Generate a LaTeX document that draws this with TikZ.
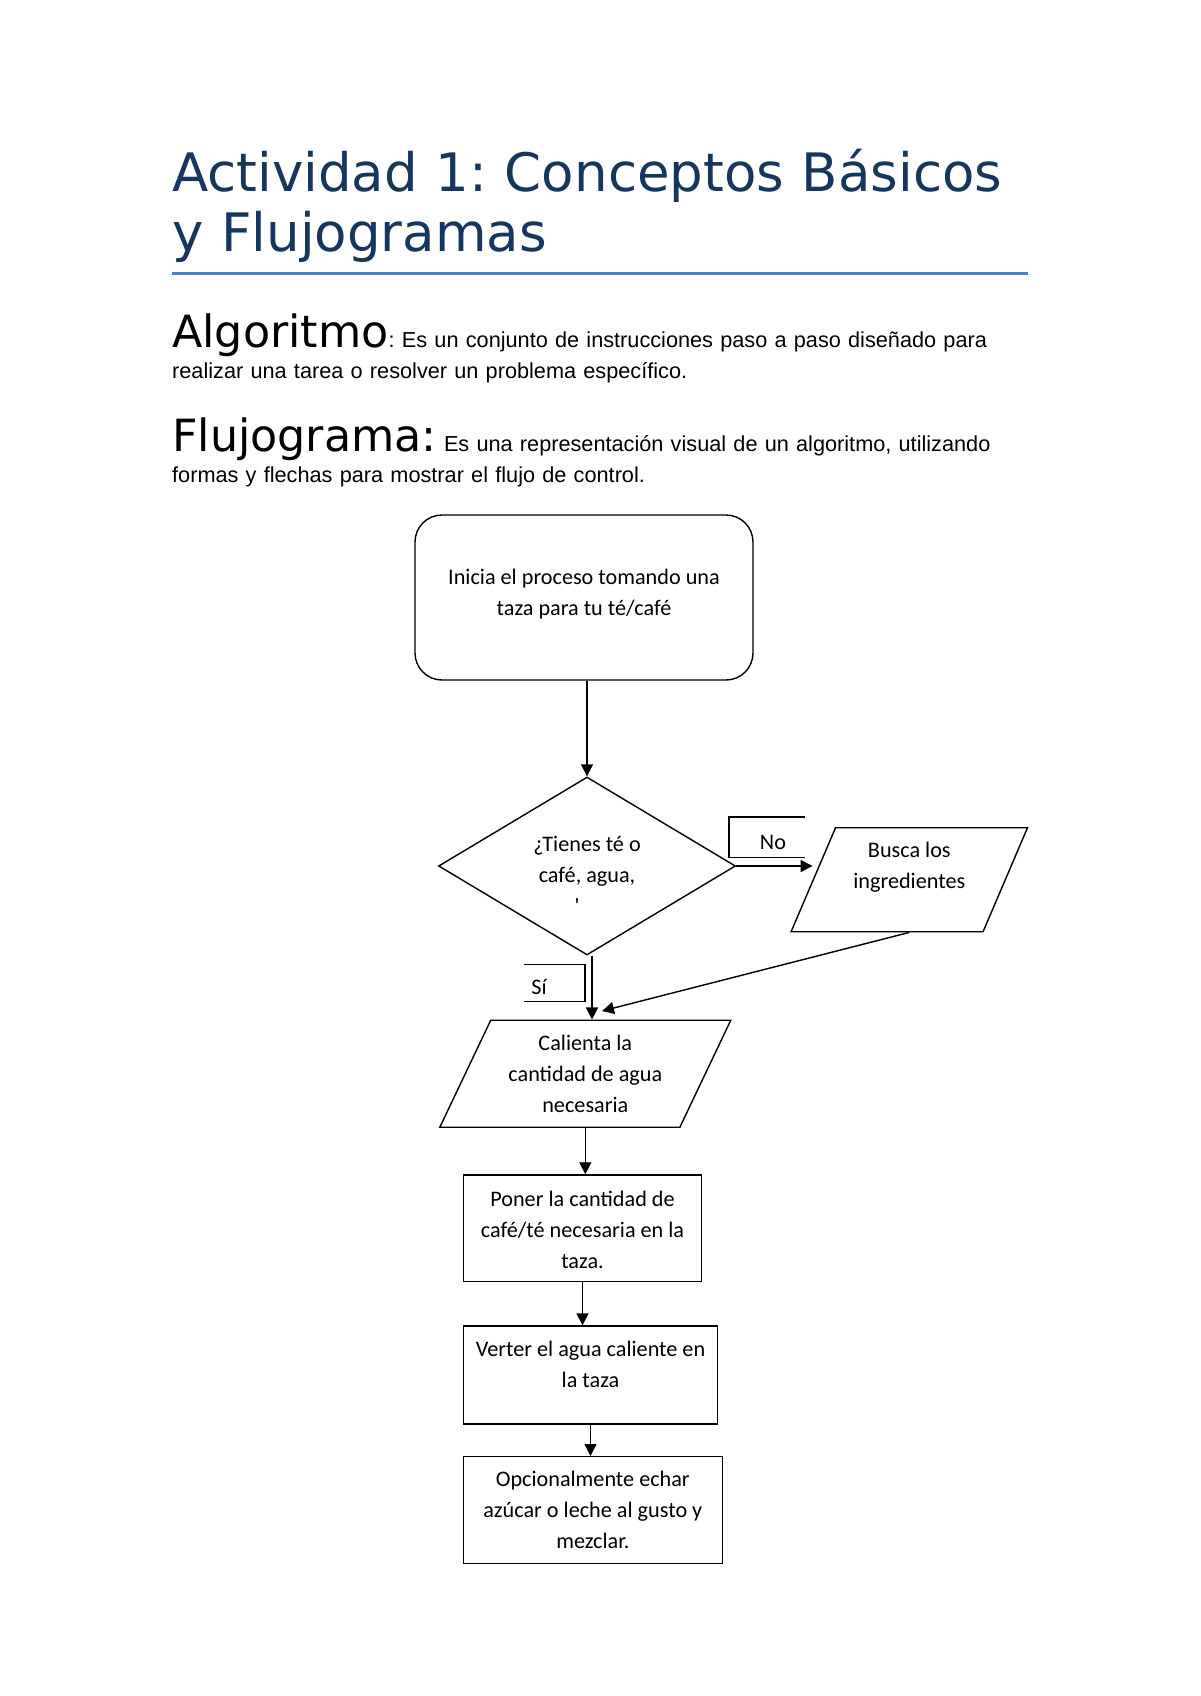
\documentclass[tikz,border=0pt]{standalone}
\usepackage{fontspec}
\setmainfont{Liberation Sans}
\newfontfamily\dejavu{DejaVu Sans}
\newfontfamily\carlito{Carlito}
\usetikzlibrary{shapes.geometric,arrows.meta}
\definecolor{titulo}{HTML}{17365D}
\definecolor{raya}{HTML}{4F81BD}
\frenchspacing
\begin{document}
\begin{tikzpicture}[x=1pt,y=-1pt,
	caja/.style={draw,line width=1.4pt,align=center,inner sep=2pt,font=\carlito\fontsize{22.2}{31}\selectfont},
	paralelo/.style={caja,trapezium,trapezium stretches=true},
	flecha/.style={line width=1.4pt,-{Triangle[length=12pt,width=12pt]}},
	etiqueta/.style={inner sep=0pt,font=\carlito\fontsize{22.2}{31}\selectfont},
	parrafo/.style={anchor=base west,text width=880pt,align=left,inner sep=0pt,font=\fontsize{21.7}{31.5}\selectfont}]
	\useasboundingbox (0,0) rectangle (1200,1696);
	\fill[white] (0,0) rectangle (1200,1696);
	% encabezado
	\node[anchor=base west,text width=900pt,align=left,inner sep=0pt,text=titulo,font=\dejavu\fontsize{53}{60}\selectfont] (titulo) at (172,192) {Actividad 1: Conceptos Básicos\\y Flujogramas};
	\draw[raya,line width=3pt] (172,273) -- (1028,273);
	\node[parrafo] (algoritmo) at (172,347) {{\dejavu\fontsize{44.4}{50}\selectfont Algoritmo}: Es un conjunto de instrucciones paso a paso diseñado para\\realizar una tarea o resolver un problema específico.};
	\node[parrafo] (flujograma) at (172,451) {{\dejavu\fontsize{44.4}{50}\selectfont Flujograma:} Es una representación visual de un algoritmo, utilizando\\formas y flechas para mostrar el flujo de control.};
	% flujograma
	\node[caja,rounded corners=27pt,minimum width=338pt,minimum height=165pt] (inicio) at (584,597.5) {Inicia el proceso tomando una\\taza para tu té/café\rule[-11pt]{0pt}{0pt}};
	\node[caja,diamond,aspect=1.66,minimum width=297pt,minimum height=178pt] (decision) at (587,866) {\rule{0pt}{33pt}¿Tienes té o\\café, agua,\\\kern-20pt'};
	\node[paralelo,trapezium left angle=66,trapezium right angle=114,minimum width=237pt,minimum height=104pt] (busca) at (909.3,879.7) {Busca los\\ingredientes\rule[-28pt]{0pt}{0pt}};
	\node[paralelo,trapezium left angle=62.5,trapezium right angle=117.5,minimum width=291pt,minimum height=107pt] (calienta) at (585.3,1073.7) {Calienta la\\cantidad de agua\\necesaria};
	\node[caja,minimum width=238.4pt,minimum height=106.7pt] (poner) at (582.5,1228.3) {\rule{0pt}{19pt}Poner la cantidad de\\café/té necesaria en la\\taza.};
	\node[caja,minimum width=254.4pt,minimum height=98pt] (verter) at (590.5,1375) {Verter el agua caliente en\\la taza\rule[-21pt]{0pt}{0pt}};
	\node[caja,minimum width=259pt,minimum height=106.6pt] (opcional) at (592.8,1510) {Opcionalmente echar\\azúcar o leche al gusto y\\mezclar.};
	% etiquetas
	\node[etiqueta] (no) at (773,842) {No};
	\draw[line width=1.4pt] ([shift={(32,-25)}]no.center) -- ++(-76,0) -- ++(0,40.5) -- ++(76,0);
	\node[etiqueta] (si) at (539,987) {Sí};
	\draw[line width=1.4pt] ([shift={(-15,-22.7)}]si.center) -- ++(61,0) -- ++(0,37.4) -- ++(-61,0);
	% flechas
	\coordinate (llegada) at (602,1011);
	\draw[flecha] (decision.north |- inicio.south) -- (decision.north);
	\draw[flecha] (decision.east) -- (decision.east -| busca.west);
	\draw[flecha] ([xshift=5pt]decision.south) -- ([xshift=5pt]decision.south |- calienta.north);
	\draw[flecha] (busca.south) -- (llegada);
	\draw[flecha] (calienta.south) -- (calienta.south |- poner.north);
	\draw[flecha] (poner.south) -- (poner.south |- verter.north);
	\draw[flecha] (verter.south) -- (verter.south |- opcional.north);
\end{tikzpicture}
\end{document}
